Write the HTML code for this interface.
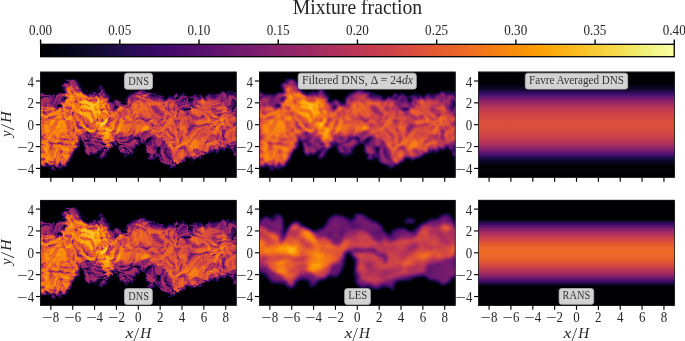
<!DOCTYPE html>
<html><head><meta charset="utf-8"><title>Mixture fraction</title>
<style>html,body{margin:0;padding:0;background:#fff}svg{display:block}</style></head>
<body>
<svg width="685" height="341" viewBox="0 0 685 341" font-family='"Liberation Serif", serif'>
<defs>
<linearGradient id="inf" x1="0" y1="0" x2="1" y2="0">
<stop offset="0.000" stop-color="#000004"/>
<stop offset="0.025" stop-color="#02020e"/>
<stop offset="0.050" stop-color="#07051b"/>
<stop offset="0.075" stop-color="#0e092b"/>
<stop offset="0.100" stop-color="#160b39"/>
<stop offset="0.125" stop-color="#210c4a"/>
<stop offset="0.150" stop-color="#2b0b57"/>
<stop offset="0.175" stop-color="#360961"/>
<stop offset="0.200" stop-color="#420a68"/>
<stop offset="0.225" stop-color="#4c0c6b"/>
<stop offset="0.250" stop-color="#57106e"/>
<stop offset="0.275" stop-color="#61136e"/>
<stop offset="0.300" stop-color="#6a176e"/>
<stop offset="0.325" stop-color="#751b6e"/>
<stop offset="0.350" stop-color="#7f1e6c"/>
<stop offset="0.375" stop-color="#8a226a"/>
<stop offset="0.400" stop-color="#932667"/>
<stop offset="0.425" stop-color="#9d2964"/>
<stop offset="0.450" stop-color="#a82e5f"/>
<stop offset="0.475" stop-color="#b1325a"/>
<stop offset="0.500" stop-color="#bc3754"/>
<stop offset="0.525" stop-color="#c43c4e"/>
<stop offset="0.550" stop-color="#cc4248"/>
<stop offset="0.575" stop-color="#d54a41"/>
<stop offset="0.600" stop-color="#dd513a"/>
<stop offset="0.625" stop-color="#e45a31"/>
<stop offset="0.650" stop-color="#ea632a"/>
<stop offset="0.675" stop-color="#ef6c23"/>
<stop offset="0.700" stop-color="#f37819"/>
<stop offset="0.725" stop-color="#f78212"/>
<stop offset="0.750" stop-color="#f98e09"/>
<stop offset="0.775" stop-color="#fb9906"/>
<stop offset="0.800" stop-color="#fca50a"/>
<stop offset="0.825" stop-color="#fcb216"/>
<stop offset="0.850" stop-color="#fbbe23"/>
<stop offset="0.875" stop-color="#f9cb35"/>
<stop offset="0.900" stop-color="#f6d746"/>
<stop offset="0.925" stop-color="#f3e35a"/>
<stop offset="0.950" stop-color="#f1ef75"/>
<stop offset="0.975" stop-color="#f4f88e"/>
<stop offset="1.000" stop-color="#fcffa4"/>
</linearGradient>
<linearGradient id="favre" gradientUnits="userSpaceOnUse" x1="0" y1="71.7" x2="0" y2="177.7">
<stop offset="0.0000" stop-color="#000004"/>
<stop offset="0.1160" stop-color="#020208"/>
<stop offset="0.1538" stop-color="#0c0826"/>
<stop offset="0.1821" stop-color="#1b0c41"/>
<stop offset="0.2104" stop-color="#3b0f6e"/>
<stop offset="0.2434" stop-color="#6a176e"/>
<stop offset="0.2858" stop-color="#932667"/>
<stop offset="0.3330" stop-color="#b5335a"/>
<stop offset="0.3896" stop-color="#cc4248"/>
<stop offset="0.4557" stop-color="#d84c3e"/>
<stop offset="0.5000" stop-color="#da4e3c"/>
<stop offset="0.5443" stop-color="#d84c3e"/>
<stop offset="0.6104" stop-color="#cc4248"/>
<stop offset="0.6670" stop-color="#b5335a"/>
<stop offset="0.7142" stop-color="#932667"/>
<stop offset="0.7566" stop-color="#6a176e"/>
<stop offset="0.7896" stop-color="#3b0f6e"/>
<stop offset="0.8179" stop-color="#1b0c41"/>
<stop offset="0.8462" stop-color="#0c0826"/>
<stop offset="0.8840" stop-color="#020208"/>
<stop offset="1.0000" stop-color="#000004"/>
</linearGradient>
<linearGradient id="rans" gradientUnits="userSpaceOnUse" x1="0" y1="199.9" x2="0" y2="305.7">
<stop offset="0.0000" stop-color="#000004"/>
<stop offset="0.1853" stop-color="#000004"/>
<stop offset="0.2042" stop-color="#160b39"/>
<stop offset="0.2325" stop-color="#420a68"/>
<stop offset="0.2703" stop-color="#7a1d6d"/>
<stop offset="0.3100" stop-color="#a52c60"/>
<stop offset="0.3554" stop-color="#c73e4c"/>
<stop offset="0.4017" stop-color="#de5238"/>
<stop offset="0.4395" stop-color="#e8632c"/>
<stop offset="0.5000" stop-color="#ee6d25"/>
<stop offset="0.5605" stop-color="#e8632c"/>
<stop offset="0.5983" stop-color="#de5238"/>
<stop offset="0.6446" stop-color="#c73e4c"/>
<stop offset="0.6900" stop-color="#a52c60"/>
<stop offset="0.7297" stop-color="#7a1d6d"/>
<stop offset="0.7675" stop-color="#420a68"/>
<stop offset="0.7958" stop-color="#160b39"/>
<stop offset="0.8147" stop-color="#000004"/>
<stop offset="1.0000" stop-color="#000004"/>
</linearGradient>
<filter id="fdns" filterUnits="userSpaceOnUse" x="26.0" y="57.7" width="224.6" height="134.0" color-interpolation-filters="sRGB">
<feTurbulence type="fractalNoise" baseFrequency="0.035" numOctaves="3" seed="3" result="n1"/>
<feTurbulence type="fractalNoise" baseFrequency="0.15 0.19" numOctaves="4" seed="11" result="n2"/>
<feDisplacementMap in="n2" in2="n1" scale="30" xChannelSelector="R" yChannelSelector="G" result="n2w"/>
<feGaussianBlur in="SourceGraphic" stdDeviation="0.9" result="b"/>
<feDisplacementMap in="b" in2="n2w" scale="9" xChannelSelector="R" yChannelSelector="G" result="d"/>
<feColorMatrix in="n2w" type="matrix" values="0 0 1 0 0  0 0 1 0 0  0 0 1 0 0  0 0 0 0 1" result="ng0"/>
<feComponentTransfer in="ng0" result="ng"><feFuncR type="table" tableValues="0.46 0.46 0.48 0.6 0.78 0.88 0.95 1 1 1 1"/><feFuncG type="table" tableValues="0.46 0.46 0.48 0.6 0.78 0.88 0.95 1 1 1 1"/><feFuncB type="table" tableValues="0.46 0.46 0.48 0.6 0.78 0.88 0.95 1 1 1 1"/></feComponentTransfer>
<feColorMatrix in="d" type="matrix" values="1 0 0 0 0  1 0 0 0 0  1 0 0 0 0  0 0 0 0 1" result="dc"/>
<feComposite in="dc" in2="ng" operator="arithmetic" k1="1.3" k2="0" k3="0" k4="-0.09" result="mc"/>
<feColorMatrix in="n2w" type="matrix" values="1 0 0 0 0  1 0 0 0 0  1 0 0 0 0  0 0 0 0 1" result="nh0"/>
<feComponentTransfer in="nh0" result="nh"><feFuncR type="table" tableValues="0 0 0 0.12 0.45 0.78 0.95 1 1 1 1"/><feFuncG type="table" tableValues="0 0 0 0.12 0.45 0.78 0.95 1 1 1 1"/><feFuncB type="table" tableValues="0 0 0 0.12 0.45 0.78 0.95 1 1 1 1"/></feComponentTransfer>
<feColorMatrix in="d" type="matrix" values="0 1 0 0 0  0 1 0 0 0  0 1 0 0 0  0 0 0 0 1" result="df"/>
<feComposite in="df" in2="nh" operator="arithmetic" k1="0.46" k2="0" k3="0" k4="0" result="mf"/>
<feComposite in="mc" in2="mf" operator="arithmetic" k1="0" k2="1" k3="1" k4="0" result="m"/>
<feColorMatrix in="m" type="matrix" values="1 0 0 0 0  0 1 0 0 0  0 0 1 0 0  0 0 0 0 1" result="mo"/>

<feComponentTransfer><feFuncR type="table" tableValues="0.001 0.014 0.042 0.082 0.129 0.183 0.238 0.291 0.342 0.391 0.441 0.491 0.541 0.591 0.640 0.689 0.736 0.781 0.822 0.861 0.894 0.923 0.947 0.965 0.978 0.986 0.988 0.984 0.975 0.961 0.948 0.955 0.988"/><feFuncG type="table" tableValues="0.000 0.011 0.028 0.043 0.047 0.040 0.037 0.046 0.062 0.081 0.099 0.117 0.135 0.153 0.171 0.192 0.216 0.243 0.275 0.312 0.353 0.399 0.449 0.502 0.558 0.616 0.675 0.736 0.798 0.859 0.917 0.966 0.998"/><feFuncB type="table" tableValues="0.014 0.072 0.141 0.215 0.291 0.355 0.396 0.419 0.429 0.433 0.432 0.426 0.415 0.400 0.381 0.358 0.330 0.300 0.266 0.231 0.194 0.155 0.115 0.074 0.035 0.026 0.065 0.130 0.206 0.298 0.411 0.540 0.645"/></feComponentTransfer>
</filter>
<filter id="ffilt" filterUnits="userSpaceOnUse" x="26.0" y="57.7" width="224.6" height="134.0" color-interpolation-filters="sRGB">
<feTurbulence type="fractalNoise" baseFrequency="0.035" numOctaves="3" seed="3" result="n1"/>
<feTurbulence type="fractalNoise" baseFrequency="0.15 0.19" numOctaves="4" seed="11" result="n2"/>
<feDisplacementMap in="n2" in2="n1" scale="30" xChannelSelector="R" yChannelSelector="G" result="n2w"/>
<feGaussianBlur in="SourceGraphic" stdDeviation="0.9" result="b"/>
<feDisplacementMap in="b" in2="n2w" scale="9" xChannelSelector="R" yChannelSelector="G" result="d"/>
<feColorMatrix in="n2w" type="matrix" values="0 0 1 0 0  0 0 1 0 0  0 0 1 0 0  0 0 0 0 1" result="ng0"/>
<feComponentTransfer in="ng0" result="ng"><feFuncR type="table" tableValues="0.46 0.46 0.48 0.6 0.78 0.88 0.95 1 1 1 1"/><feFuncG type="table" tableValues="0.46 0.46 0.48 0.6 0.78 0.88 0.95 1 1 1 1"/><feFuncB type="table" tableValues="0.46 0.46 0.48 0.6 0.78 0.88 0.95 1 1 1 1"/></feComponentTransfer>
<feColorMatrix in="d" type="matrix" values="1 0 0 0 0  1 0 0 0 0  1 0 0 0 0  0 0 0 0 1" result="dc"/>
<feComposite in="dc" in2="ng" operator="arithmetic" k1="1.3" k2="0" k3="0" k4="-0.09" result="mc"/>
<feColorMatrix in="n2w" type="matrix" values="1 0 0 0 0  1 0 0 0 0  1 0 0 0 0  0 0 0 0 1" result="nh0"/>
<feComponentTransfer in="nh0" result="nh"><feFuncR type="table" tableValues="0 0 0 0.12 0.45 0.78 0.95 1 1 1 1"/><feFuncG type="table" tableValues="0 0 0 0.12 0.45 0.78 0.95 1 1 1 1"/><feFuncB type="table" tableValues="0 0 0 0.12 0.45 0.78 0.95 1 1 1 1"/></feComponentTransfer>
<feColorMatrix in="d" type="matrix" values="0 1 0 0 0  0 1 0 0 0  0 1 0 0 0  0 0 0 0 1" result="df"/>
<feComposite in="df" in2="nh" operator="arithmetic" k1="0.46" k2="0" k3="0" k4="0" result="mf"/>
<feComposite in="mc" in2="mf" operator="arithmetic" k1="0" k2="1" k3="1" k4="0" result="m"/>
<feColorMatrix in="m" type="matrix" values="1 0 0 0 0  0 1 0 0 0  0 0 1 0 0  0 0 0 0 1" result="mo"/>
<feGaussianBlur in="mo" stdDeviation="0.85"/>
<feComponentTransfer><feFuncR type="table" tableValues="0.001 0.014 0.042 0.082 0.129 0.183 0.238 0.291 0.342 0.391 0.441 0.491 0.541 0.591 0.640 0.689 0.736 0.781 0.822 0.861 0.894 0.923 0.947 0.965 0.978 0.986 0.988 0.984 0.975 0.961 0.948 0.955 0.988"/><feFuncG type="table" tableValues="0.000 0.011 0.028 0.043 0.047 0.040 0.037 0.046 0.062 0.081 0.099 0.117 0.135 0.153 0.171 0.192 0.216 0.243 0.275 0.312 0.353 0.399 0.449 0.502 0.558 0.616 0.675 0.736 0.798 0.859 0.917 0.966 0.998"/><feFuncB type="table" tableValues="0.014 0.072 0.141 0.215 0.291 0.355 0.396 0.419 0.429 0.433 0.432 0.426 0.415 0.400 0.381 0.358 0.330 0.300 0.266 0.231 0.194 0.155 0.115 0.074 0.035 0.026 0.065 0.130 0.206 0.298 0.411 0.540 0.645"/></feComponentTransfer>
</filter>
<filter id="fles" filterUnits="userSpaceOnUse" x="245.0" y="185.9" width="224.6" height="134.0" color-interpolation-filters="sRGB">
<feTurbulence type="fractalNoise" baseFrequency="0.03" numOctaves="2" seed="5" result="n1"/>
<feTurbulence type="fractalNoise" baseFrequency="0.055 0.075" numOctaves="3" seed="8" result="n2"/>
<feDisplacementMap in="n2" in2="n1" scale="18" xChannelSelector="R" yChannelSelector="G" result="n2w0"/>
<feGaussianBlur in="n2w0" stdDeviation="1.0" result="n2w"/>
<feGaussianBlur in="SourceGraphic" stdDeviation="1.4" result="b"/>
<feDisplacementMap in="b" in2="n2w" scale="6" xChannelSelector="R" yChannelSelector="G" result="d"/>
<feColorMatrix in="n2w" type="matrix" values="0 0 1.8 0 -0.4  0 0 1.8 0 -0.4  0 0 1.8 0 -0.4  0 0 0 0 1" result="ng"/>
<feComposite in="d" in2="ng" operator="arithmetic" k1="0.5" k2="0.7" k3="0" k4="0" result="m"/>
<feGaussianBlur in="m" stdDeviation="0.9" result="m2"/>
<feColorMatrix in="m2" type="matrix" values="1 0 0 0 0  0 1 0 0 0  0 0 1 0 0  0 0 0 0 1"/>
<feComponentTransfer><feFuncR type="table" tableValues="0.001 0.014 0.042 0.082 0.129 0.183 0.238 0.291 0.342 0.391 0.441 0.491 0.541 0.591 0.640 0.689 0.736 0.781 0.822 0.861 0.894 0.923 0.947 0.965 0.978 0.986 0.988 0.984 0.975 0.961 0.948 0.955 0.988"/><feFuncG type="table" tableValues="0.000 0.011 0.028 0.043 0.047 0.040 0.037 0.046 0.062 0.081 0.099 0.117 0.135 0.153 0.171 0.192 0.216 0.243 0.275 0.312 0.353 0.399 0.449 0.502 0.558 0.616 0.675 0.736 0.798 0.859 0.917 0.966 0.998"/><feFuncB type="table" tableValues="0.014 0.072 0.141 0.215 0.291 0.355 0.396 0.419 0.429 0.433 0.432 0.426 0.415 0.400 0.381 0.358 0.330 0.300 0.266 0.231 0.194 0.155 0.115 0.074 0.035 0.026 0.065 0.130 0.206 0.298 0.411 0.540 0.645"/></feComponentTransfer>
</filter>
<clipPath id="cp00"><rect x="40.0" y="71.7" width="196.6" height="106.0"/></clipPath>
<clipPath id="cp01"><rect x="40.0" y="199.9" width="196.6" height="105.8"/></clipPath>
<clipPath id="cp10"><rect x="259.0" y="71.7" width="196.6" height="106.0"/></clipPath>
<clipPath id="cp11"><rect x="259.0" y="199.9" width="196.6" height="105.8"/></clipPath>
<clipPath id="cp20"><rect x="478.2" y="71.7" width="196.6" height="106.0"/></clipPath>
<clipPath id="cp21"><rect x="478.2" y="199.9" width="196.6" height="105.8"/></clipPath>
</defs>
<text x="357.5" y="13.7" font-size="20.2" text-anchor="middle" textLength="129.4" lengthAdjust="spacingAndGlyphs" fill="#262626">Mixture fraction</text>
<rect x="40.65" y="44.30" width="633.60" height="12.40" fill="url(#inf)" stroke="#000" stroke-width="1.3"/>
<line x1="40.60" y1="39.5" x2="40.60" y2="44" stroke="#000" stroke-width="1.4"/>
<text x="29.1" y="35.0" font-size="14.3" text-anchor="start" textLength="22.9" lengthAdjust="spacingAndGlyphs" fill="#262626">0.00</text>
<line x1="119.81" y1="39.5" x2="119.81" y2="44" stroke="#000" stroke-width="1.4"/>
<text x="108.3" y="35.0" font-size="14.3" text-anchor="start" textLength="22.9" lengthAdjust="spacingAndGlyphs" fill="#262626">0.05</text>
<line x1="199.02" y1="39.5" x2="199.02" y2="44" stroke="#000" stroke-width="1.4"/>
<text x="187.5" y="35.0" font-size="14.3" text-anchor="start" textLength="22.9" lengthAdjust="spacingAndGlyphs" fill="#262626">0.10</text>
<line x1="278.24" y1="39.5" x2="278.24" y2="44" stroke="#000" stroke-width="1.4"/>
<text x="266.7" y="35.0" font-size="14.3" text-anchor="start" textLength="22.9" lengthAdjust="spacingAndGlyphs" fill="#262626">0.15</text>
<line x1="357.45" y1="39.5" x2="357.45" y2="44" stroke="#000" stroke-width="1.4"/>
<text x="345.9" y="35.0" font-size="14.3" text-anchor="start" textLength="22.9" lengthAdjust="spacingAndGlyphs" fill="#262626">0.20</text>
<line x1="436.66" y1="39.5" x2="436.66" y2="44" stroke="#000" stroke-width="1.4"/>
<text x="425.1" y="35.0" font-size="14.3" text-anchor="start" textLength="22.9" lengthAdjust="spacingAndGlyphs" fill="#262626">0.25</text>
<line x1="515.88" y1="39.5" x2="515.88" y2="44" stroke="#000" stroke-width="1.4"/>
<text x="504.3" y="35.0" font-size="14.3" text-anchor="start" textLength="22.9" lengthAdjust="spacingAndGlyphs" fill="#262626">0.30</text>
<line x1="595.09" y1="39.5" x2="595.09" y2="44" stroke="#000" stroke-width="1.4"/>
<text x="583.5" y="35.0" font-size="14.3" text-anchor="start" textLength="22.9" lengthAdjust="spacingAndGlyphs" fill="#262626">0.35</text>
<line x1="674.30" y1="39.5" x2="674.30" y2="44" stroke="#000" stroke-width="1.4"/>
<text x="662.8" y="35.0" font-size="14.3" text-anchor="start" textLength="22.9" lengthAdjust="spacingAndGlyphs" fill="#262626">0.40</text>
<defs><g id="dns">
<rect x="20.0" y="51.7" width="236.6" height="146.0" fill="#000"/>
<polygon points="38.0,92.0 41.2,91.8 47.7,94.2 54.1,96.6 59.0,94.2 62.2,91.0 65.4,82.9 70.3,80.5 75.9,80.0 79.9,86.1 84.8,90.2 89.6,94.2 94.5,92.6 101.7,87.7 105.7,91.8 110.6,100.6 113.8,102.3 118.6,100.6 125.1,101.5 128.0,97.4 132.8,94.2 137.7,91.8 142.5,90.2 147.4,92.6 152.2,94.2 157.0,95.8 161.9,96.6 165.9,99.8 169.9,97.4 174.0,96.6 178.0,94.2 182.8,95.0 187.7,96.6 192.5,95.0 197.4,95.8 202.2,96.6 207.0,95.0 211.9,93.4 218.3,94.2 224.8,93.4 231.2,92.6 239.0,94.2 239.0,157.3 234.5,158.9 232.8,149.2 229.6,147.6 224.8,149.2 219.9,150.8 215.1,154.8 210.3,151.6 205.4,152.4 200.6,156.5 195.7,155.6 190.9,159.7 186.1,157.3 182.8,161.3 178.0,163.7 174.0,166.9 169.9,165.3 165.1,164.5 161.9,159.7 157.0,155.6 152.2,159.7 149.0,157.3 145.7,142.7 140.9,141.1 136.1,146.0 131.2,154.0 128.0,156.5 125.1,155.6 118.6,147.6 115.4,141.1 112.2,146.0 107.4,152.4 102.5,159.7 97.7,158.1 92.8,150.8 89.6,156.5 86.4,149.2 83.2,141.1 80.5,135.5 79.0,140.0 78.5,148.0 74.0,153.5 69.5,158.5 67.0,164.5 61.0,167.5 54.1,169.4 47.7,165.3 41.2,166.1 38.0,166.0" fill="#00ff00"/>
<linearGradient id="cg" gradientUnits="userSpaceOnUse" x1="40" y1="0" x2="236" y2="0"><stop offset="0" stop-color="#a80000"/><stop offset="0.36" stop-color="#ad0000"/><stop offset="0.47" stop-color="#980000"/><stop offset="1" stop-color="#920000"/></linearGradient>
<polygon points="38.0,106.0 41.2,106.3 47.7,104.7 54.1,107.1 60.6,108.7 63.8,97.4 67.0,89.4 71.9,86.1 76.7,86.1 79.9,91.0 84.8,94.2 89.6,98.2 94.5,96.6 100.9,94.2 105.7,97.4 110.6,104.7 113.8,111.9 118.6,108.7 125.1,105.5 128.0,100.6 134.5,96.6 142.5,93.4 149.0,95.8 155.4,98.2 161.9,99.8 166.7,102.3 171.5,99.0 174.8,102.3 178.0,108.7 184.5,112.7 190.9,110.3 194.1,100.6 200.6,99.0 207.0,98.2 213.5,97.4 219.9,98.2 224.8,102.3 229.6,110.3 234.5,115.2 239.0,116.0 239.0,144.4 229.6,142.7 224.8,145.2 219.9,147.6 215.1,150.8 210.3,149.2 205.4,150.8 200.6,154.8 195.7,154.8 190.9,158.1 186.1,156.5 182.8,160.5 178.0,162.9 174.0,165.3 171.5,157.3 169.9,149.2 166.7,142.7 160.3,137.9 153.8,134.7 147.4,132.3 140.9,133.9 134.5,136.3 128.0,137.9 121.9,133.9 115.4,136.3 112.2,142.7 109.8,149.2 105.7,146.0 102.5,139.5 97.7,136.3 91.2,133.9 84.8,132.3 79.5,134.0 78.0,139.5 77.0,147.0 72.5,152.0 68.0,157.5 65.5,163.0 59.0,164.5 54.1,167.3 47.7,163.7 41.2,164.5 38.0,164.5" fill="url(#cg)"/>
<g fill="#ff0000" fill-opacity="0.2">
<ellipse cx="93" cy="112" rx="16" ry="12" transform="rotate(35 93 112)"/>
<ellipse cx="108" cy="126" rx="12" ry="8" transform="rotate(30 108 126)"/>
<ellipse cx="144" cy="128" rx="6" ry="4"/>
<ellipse cx="190" cy="144" rx="28" ry="4" transform="rotate(-6 190 144)" fill-opacity="0.15"/>
<ellipse cx="219" cy="122" rx="9" ry="12" fill-opacity="0.12"/>
</g>
</g></defs>
<g clip-path="url(#cp00)"><use href="#dns" filter="url(#fdns)"/></g>
<g clip-path="url(#cp01)"><use href="#dns" filter="url(#fdns)" transform="translate(0,128.2)"/></g>
<g clip-path="url(#cp10)"><use href="#dns" filter="url(#ffilt)" transform="translate(219.0,0)"/></g>
<g clip-path="url(#cp11)"><g filter="url(#fles)">
<rect x="239.0" y="179.9" width="236.6" height="146.0" fill="#000"/>
<polygon points="255.0,225.0 259.4,224.6 263.5,219.0 268.3,218.2 272.3,222.2 273.9,215.7 278.0,212.5 281.2,215.7 282.0,227.0 283.6,238.3 286.8,230.3 290.9,223.8 297.3,221.9 303.8,226.2 308.6,230.3 313.5,232.7 316.7,230.3 321.5,228.6 326.4,225.4 331.2,217.4 336.0,214.1 340.9,215.7 345.7,219.0 349.7,222.2 353.8,217.4 356.7,214.1 361.5,213.3 366.4,217.4 371.2,222.2 376.0,223.8 380.9,227.0 385.7,232.7 390.5,236.7 393.8,230.3 398.6,228.6 403.5,229.5 408.3,231.9 413.1,233.5 416.4,227.8 421.2,224.6 426.0,222.2 430.9,220.6 437.3,217.4 442.2,214.1 447.0,213.3 451.8,217.4 455.6,225.4 459.0,226.0 459.0,273.0 455.6,273.7 451.8,276.9 448.6,281.8 443.8,284.2 438.9,281.8 434.1,279.4 429.3,281.0 424.4,276.9 418.0,276.1 411.5,277.7 406.7,280.2 401.8,279.4 397.0,281.0 392.2,288.2 387.3,286.6 382.5,285.0 377.6,288.2 372.8,286.6 368.0,285.0 363.1,287.4 358.3,286.6 355.9,281.8 356.7,272.1 355.9,262.4 351.8,254.4 347.0,251.9 345.7,256.0 342.5,267.5 339.3,274.0 336.0,278.0 332.8,276.4 329.6,275.6 324.7,278.8 319.9,279.6 315.1,282.8 312.6,287.7 310.2,285.3 307.0,280.4 302.2,278.8 297.3,279.6 294.1,282.8 291.7,288.5 287.6,286.9 282.8,283.6 278.0,282.0 273.1,282.8 268.3,279.6 263.5,274.0 259.4,271.5 255.0,271.0" fill="#505050"/>
<ellipse cx="408.3" cy="220.3" rx="5.6" ry="2.6" fill="#444"/>
<linearGradient id="lg" gradientUnits="userSpaceOnUse" x1="259" y1="0" x2="455" y2="0"><stop offset="0" stop-color="#a5a5a5"/><stop offset="0.36" stop-color="#a9a9a9"/><stop offset="0.5" stop-color="#8e8e8e"/><stop offset="1" stop-color="#919191"/></linearGradient>
<polygon points="255.0,226.5 259.4,226.2 265.0,228.6 273.1,232.7 279.6,238.3 283.6,242.4 286.8,234.3 290.9,226.2 297.3,223.8 303.8,227.8 310.2,232.7 315.1,238.3 318.3,241.5 321.5,236.7 328.0,238.3 332.8,244.8 338.0,246.0 343.0,240.0 347.0,230.3 353.5,228.6 361.5,227.8 368.0,231.9 372.8,238.3 379.3,241.5 385.7,240.7 392.2,241.5 400.2,238.3 408.3,239.9 414.7,238.3 419.6,230.3 424.4,225.4 429.3,224.6 434.1,227.8 438.9,225.4 443.8,222.2 448.6,223.8 455.6,227.0 459.0,227.0 459.0,256.0 455.6,256.0 447.0,259.2 438.9,261.6 432.5,264.0 426.0,265.6 422.8,271.3 414.7,273.7 405.1,276.1 397.0,276.9 392.2,280.2 385.7,281.8 376.0,283.4 366.4,281.8 359.9,278.5 358.5,268.0 357.0,258.0 352.0,252.0 346.0,252.0 342.5,256.2 339.3,261.1 336.0,264.3 331.2,265.9 328.8,272.4 324.7,277.2 318.3,277.2 311.8,274.0 305.4,272.4 298.9,274.0 293.3,280.4 291.7,286.9 287.6,283.6 281.2,274.0 273.1,270.7 266.7,265.1 259.4,265.9 255.0,266.0" fill="url(#lg)"/>
<g fill="#fff" fill-opacity="0.12">
<ellipse cx="322" cy="250" rx="14" ry="8"/>
<ellipse cx="285" cy="252" rx="22" ry="9"/>
<ellipse cx="432" cy="256" rx="14" ry="5" transform="rotate(-20 432 256)" fill-opacity="0.14"/>
<ellipse cx="377" cy="274" rx="9" ry="5"/>
</g>
<path d="M345,254 Q360,245 374,251 T385,262" fill="none" stroke="#000" stroke-opacity="0.55" stroke-width="4" stroke-linecap="round"/>
</g></g>
<rect x="478.2" y="71.7" width="196.6" height="106.0" fill="url(#favre)"/>
<rect x="478.2" y="199.9" width="196.6" height="106.0" fill="url(#rans)"/>
<rect x="40.4" y="72.1" width="195.8" height="105.2" fill="none" stroke="#1a1a1a" stroke-width="0.8"/>
<line x1="50.86" y1="177.7" x2="50.86" y2="181.8" stroke="#000" stroke-width="1.15"/>
<line x1="72.72" y1="177.7" x2="72.72" y2="181.8" stroke="#000" stroke-width="1.15"/>
<line x1="94.58" y1="177.7" x2="94.58" y2="181.8" stroke="#000" stroke-width="1.15"/>
<line x1="116.44" y1="177.7" x2="116.44" y2="181.8" stroke="#000" stroke-width="1.15"/>
<line x1="138.30" y1="177.7" x2="138.30" y2="181.8" stroke="#000" stroke-width="1.15"/>
<line x1="160.16" y1="177.7" x2="160.16" y2="181.8" stroke="#000" stroke-width="1.15"/>
<line x1="182.02" y1="177.7" x2="182.02" y2="181.8" stroke="#000" stroke-width="1.15"/>
<line x1="203.88" y1="177.7" x2="203.88" y2="181.8" stroke="#000" stroke-width="1.15"/>
<line x1="225.74" y1="177.7" x2="225.74" y2="181.8" stroke="#000" stroke-width="1.15"/>
<line x1="35.9" y1="168.42" x2="40.0" y2="168.42" stroke="#000" stroke-width="1.15"/>
<text y="173.9" font-size="14.3" fill="#262626"><tspan x="17.1" textLength="10.4" lengthAdjust="spacingAndGlyphs">−</tspan><tspan x="27.7" textLength="6.45" lengthAdjust="spacingAndGlyphs">4</tspan></text>
<line x1="35.9" y1="146.56" x2="40.0" y2="146.56" stroke="#000" stroke-width="1.15"/>
<text y="152.1" font-size="14.3" fill="#262626"><tspan x="17.1" textLength="10.4" lengthAdjust="spacingAndGlyphs">−</tspan><tspan x="27.7" textLength="6.45" lengthAdjust="spacingAndGlyphs">2</tspan></text>
<line x1="35.9" y1="124.70" x2="40.0" y2="124.70" stroke="#000" stroke-width="1.15"/>
<text x="27.6" y="130.2" font-size="14.3" text-anchor="start" textLength="6.5" lengthAdjust="spacingAndGlyphs" fill="#262626">0</text>
<line x1="35.9" y1="102.84" x2="40.0" y2="102.84" stroke="#000" stroke-width="1.15"/>
<text x="27.6" y="108.3" font-size="14.3" text-anchor="start" textLength="6.5" lengthAdjust="spacingAndGlyphs" fill="#262626">2</text>
<line x1="35.9" y1="80.98" x2="40.0" y2="80.98" stroke="#000" stroke-width="1.15"/>
<text x="27.6" y="86.5" font-size="14.3" text-anchor="start" textLength="6.5" lengthAdjust="spacingAndGlyphs" fill="#262626">4</text>
<rect x="40.4" y="200.3" width="195.8" height="105.0" fill="none" stroke="#1a1a1a" stroke-width="0.8"/>
<line x1="50.86" y1="305.7" x2="50.86" y2="309.8" stroke="#000" stroke-width="1.15"/>
<text y="322.1" font-size="14.3" fill="#262626"><tspan x="42.1" textLength="10.4" lengthAdjust="spacingAndGlyphs">−</tspan><tspan x="52.8" textLength="6.45" lengthAdjust="spacingAndGlyphs">8</tspan></text>
<line x1="72.72" y1="305.7" x2="72.72" y2="309.8" stroke="#000" stroke-width="1.15"/>
<text y="322.1" font-size="14.3" fill="#262626"><tspan x="64.0" textLength="10.4" lengthAdjust="spacingAndGlyphs">−</tspan><tspan x="74.7" textLength="6.45" lengthAdjust="spacingAndGlyphs">6</tspan></text>
<line x1="94.58" y1="305.7" x2="94.58" y2="309.8" stroke="#000" stroke-width="1.15"/>
<text y="322.1" font-size="14.3" fill="#262626"><tspan x="85.9" textLength="10.4" lengthAdjust="spacingAndGlyphs">−</tspan><tspan x="96.6" textLength="6.45" lengthAdjust="spacingAndGlyphs">4</tspan></text>
<line x1="116.44" y1="305.7" x2="116.44" y2="309.8" stroke="#000" stroke-width="1.15"/>
<text y="322.1" font-size="14.3" fill="#262626"><tspan x="107.7" textLength="10.4" lengthAdjust="spacingAndGlyphs">−</tspan><tspan x="118.4" textLength="6.45" lengthAdjust="spacingAndGlyphs">2</tspan></text>
<line x1="138.30" y1="305.7" x2="138.30" y2="309.8" stroke="#000" stroke-width="1.15"/>
<text x="135.1" y="322.1" font-size="14.3" text-anchor="start" textLength="6.5" lengthAdjust="spacingAndGlyphs" fill="#262626">0</text>
<line x1="160.16" y1="305.7" x2="160.16" y2="309.8" stroke="#000" stroke-width="1.15"/>
<text x="156.9" y="322.1" font-size="14.3" text-anchor="start" textLength="6.5" lengthAdjust="spacingAndGlyphs" fill="#262626">2</text>
<line x1="182.02" y1="305.7" x2="182.02" y2="309.8" stroke="#000" stroke-width="1.15"/>
<text x="178.8" y="322.1" font-size="14.3" text-anchor="start" textLength="6.5" lengthAdjust="spacingAndGlyphs" fill="#262626">4</text>
<line x1="203.88" y1="305.7" x2="203.88" y2="309.8" stroke="#000" stroke-width="1.15"/>
<text x="200.7" y="322.1" font-size="14.3" text-anchor="start" textLength="6.5" lengthAdjust="spacingAndGlyphs" fill="#262626">6</text>
<line x1="225.74" y1="305.7" x2="225.74" y2="309.8" stroke="#000" stroke-width="1.15"/>
<text x="222.5" y="322.1" font-size="14.3" text-anchor="start" textLength="6.5" lengthAdjust="spacingAndGlyphs" fill="#262626">8</text>
<line x1="35.9" y1="296.52" x2="40.0" y2="296.52" stroke="#000" stroke-width="1.15"/>
<text y="302.0" font-size="14.3" fill="#262626"><tspan x="17.1" textLength="10.4" lengthAdjust="spacingAndGlyphs">−</tspan><tspan x="27.7" textLength="6.45" lengthAdjust="spacingAndGlyphs">4</tspan></text>
<line x1="35.9" y1="274.66" x2="40.0" y2="274.66" stroke="#000" stroke-width="1.15"/>
<text y="280.2" font-size="14.3" fill="#262626"><tspan x="17.1" textLength="10.4" lengthAdjust="spacingAndGlyphs">−</tspan><tspan x="27.7" textLength="6.45" lengthAdjust="spacingAndGlyphs">2</tspan></text>
<line x1="35.9" y1="252.80" x2="40.0" y2="252.80" stroke="#000" stroke-width="1.15"/>
<text x="27.6" y="258.3" font-size="14.3" text-anchor="start" textLength="6.5" lengthAdjust="spacingAndGlyphs" fill="#262626">0</text>
<line x1="35.9" y1="230.94" x2="40.0" y2="230.94" stroke="#000" stroke-width="1.15"/>
<text x="27.6" y="236.4" font-size="14.3" text-anchor="start" textLength="6.5" lengthAdjust="spacingAndGlyphs" fill="#262626">2</text>
<line x1="35.9" y1="209.08" x2="40.0" y2="209.08" stroke="#000" stroke-width="1.15"/>
<text x="27.6" y="214.6" font-size="14.3" text-anchor="start" textLength="6.5" lengthAdjust="spacingAndGlyphs" fill="#262626">4</text>
<text transform="translate(125.5,337.5)" font-style="italic" fill="#262626"><tspan x="0" y="0" font-size="14.6" textLength="7.9" lengthAdjust="spacingAndGlyphs">x</tspan><tspan x="8.7" y="3.4" font-size="19.5" textLength="3.8" lengthAdjust="spacingAndGlyphs">/</tspan><tspan x="14.7" y="0" font-size="14.2" textLength="10.9" lengthAdjust="spacingAndGlyphs">H</tspan></text>
<rect x="259.4" y="72.1" width="195.8" height="105.2" fill="none" stroke="#1a1a1a" stroke-width="0.8"/>
<line x1="269.86" y1="177.7" x2="269.86" y2="181.8" stroke="#000" stroke-width="1.15"/>
<line x1="291.72" y1="177.7" x2="291.72" y2="181.8" stroke="#000" stroke-width="1.15"/>
<line x1="313.58" y1="177.7" x2="313.58" y2="181.8" stroke="#000" stroke-width="1.15"/>
<line x1="335.44" y1="177.7" x2="335.44" y2="181.8" stroke="#000" stroke-width="1.15"/>
<line x1="357.30" y1="177.7" x2="357.30" y2="181.8" stroke="#000" stroke-width="1.15"/>
<line x1="379.16" y1="177.7" x2="379.16" y2="181.8" stroke="#000" stroke-width="1.15"/>
<line x1="401.02" y1="177.7" x2="401.02" y2="181.8" stroke="#000" stroke-width="1.15"/>
<line x1="422.88" y1="177.7" x2="422.88" y2="181.8" stroke="#000" stroke-width="1.15"/>
<line x1="444.74" y1="177.7" x2="444.74" y2="181.8" stroke="#000" stroke-width="1.15"/>
<line x1="254.9" y1="168.42" x2="259.0" y2="168.42" stroke="#000" stroke-width="1.15"/>
<text y="173.9" font-size="14.3" fill="#262626"><tspan x="236.1" textLength="10.4" lengthAdjust="spacingAndGlyphs">−</tspan><tspan x="246.7" textLength="6.45" lengthAdjust="spacingAndGlyphs">4</tspan></text>
<line x1="254.9" y1="146.56" x2="259.0" y2="146.56" stroke="#000" stroke-width="1.15"/>
<text y="152.1" font-size="14.3" fill="#262626"><tspan x="236.1" textLength="10.4" lengthAdjust="spacingAndGlyphs">−</tspan><tspan x="246.7" textLength="6.45" lengthAdjust="spacingAndGlyphs">2</tspan></text>
<line x1="254.9" y1="124.70" x2="259.0" y2="124.70" stroke="#000" stroke-width="1.15"/>
<text x="246.6" y="130.2" font-size="14.3" text-anchor="start" textLength="6.5" lengthAdjust="spacingAndGlyphs" fill="#262626">0</text>
<line x1="254.9" y1="102.84" x2="259.0" y2="102.84" stroke="#000" stroke-width="1.15"/>
<text x="246.6" y="108.3" font-size="14.3" text-anchor="start" textLength="6.5" lengthAdjust="spacingAndGlyphs" fill="#262626">2</text>
<line x1="254.9" y1="80.98" x2="259.0" y2="80.98" stroke="#000" stroke-width="1.15"/>
<text x="246.6" y="86.5" font-size="14.3" text-anchor="start" textLength="6.5" lengthAdjust="spacingAndGlyphs" fill="#262626">4</text>
<rect x="259.4" y="200.3" width="195.8" height="105.0" fill="none" stroke="#1a1a1a" stroke-width="0.8"/>
<line x1="269.86" y1="305.7" x2="269.86" y2="309.8" stroke="#000" stroke-width="1.15"/>
<text y="322.1" font-size="14.3" fill="#262626"><tspan x="261.1" textLength="10.4" lengthAdjust="spacingAndGlyphs">−</tspan><tspan x="271.8" textLength="6.45" lengthAdjust="spacingAndGlyphs">8</tspan></text>
<line x1="291.72" y1="305.7" x2="291.72" y2="309.8" stroke="#000" stroke-width="1.15"/>
<text y="322.1" font-size="14.3" fill="#262626"><tspan x="283.0" textLength="10.4" lengthAdjust="spacingAndGlyphs">−</tspan><tspan x="293.7" textLength="6.45" lengthAdjust="spacingAndGlyphs">6</tspan></text>
<line x1="313.58" y1="305.7" x2="313.58" y2="309.8" stroke="#000" stroke-width="1.15"/>
<text y="322.1" font-size="14.3" fill="#262626"><tspan x="304.9" textLength="10.4" lengthAdjust="spacingAndGlyphs">−</tspan><tspan x="315.6" textLength="6.45" lengthAdjust="spacingAndGlyphs">4</tspan></text>
<line x1="335.44" y1="305.7" x2="335.44" y2="309.8" stroke="#000" stroke-width="1.15"/>
<text y="322.1" font-size="14.3" fill="#262626"><tspan x="326.7" textLength="10.4" lengthAdjust="spacingAndGlyphs">−</tspan><tspan x="337.4" textLength="6.45" lengthAdjust="spacingAndGlyphs">2</tspan></text>
<line x1="357.30" y1="305.7" x2="357.30" y2="309.8" stroke="#000" stroke-width="1.15"/>
<text x="354.1" y="322.1" font-size="14.3" text-anchor="start" textLength="6.5" lengthAdjust="spacingAndGlyphs" fill="#262626">0</text>
<line x1="379.16" y1="305.7" x2="379.16" y2="309.8" stroke="#000" stroke-width="1.15"/>
<text x="375.9" y="322.1" font-size="14.3" text-anchor="start" textLength="6.5" lengthAdjust="spacingAndGlyphs" fill="#262626">2</text>
<line x1="401.02" y1="305.7" x2="401.02" y2="309.8" stroke="#000" stroke-width="1.15"/>
<text x="397.8" y="322.1" font-size="14.3" text-anchor="start" textLength="6.5" lengthAdjust="spacingAndGlyphs" fill="#262626">4</text>
<line x1="422.88" y1="305.7" x2="422.88" y2="309.8" stroke="#000" stroke-width="1.15"/>
<text x="419.7" y="322.1" font-size="14.3" text-anchor="start" textLength="6.5" lengthAdjust="spacingAndGlyphs" fill="#262626">6</text>
<line x1="444.74" y1="305.7" x2="444.74" y2="309.8" stroke="#000" stroke-width="1.15"/>
<text x="441.5" y="322.1" font-size="14.3" text-anchor="start" textLength="6.5" lengthAdjust="spacingAndGlyphs" fill="#262626">8</text>
<line x1="254.9" y1="296.52" x2="259.0" y2="296.52" stroke="#000" stroke-width="1.15"/>
<text y="302.0" font-size="14.3" fill="#262626"><tspan x="236.1" textLength="10.4" lengthAdjust="spacingAndGlyphs">−</tspan><tspan x="246.7" textLength="6.45" lengthAdjust="spacingAndGlyphs">4</tspan></text>
<line x1="254.9" y1="274.66" x2="259.0" y2="274.66" stroke="#000" stroke-width="1.15"/>
<text y="280.2" font-size="14.3" fill="#262626"><tspan x="236.1" textLength="10.4" lengthAdjust="spacingAndGlyphs">−</tspan><tspan x="246.7" textLength="6.45" lengthAdjust="spacingAndGlyphs">2</tspan></text>
<line x1="254.9" y1="252.80" x2="259.0" y2="252.80" stroke="#000" stroke-width="1.15"/>
<text x="246.6" y="258.3" font-size="14.3" text-anchor="start" textLength="6.5" lengthAdjust="spacingAndGlyphs" fill="#262626">0</text>
<line x1="254.9" y1="230.94" x2="259.0" y2="230.94" stroke="#000" stroke-width="1.15"/>
<text x="246.6" y="236.4" font-size="14.3" text-anchor="start" textLength="6.5" lengthAdjust="spacingAndGlyphs" fill="#262626">2</text>
<line x1="254.9" y1="209.08" x2="259.0" y2="209.08" stroke="#000" stroke-width="1.15"/>
<text x="246.6" y="214.6" font-size="14.3" text-anchor="start" textLength="6.5" lengthAdjust="spacingAndGlyphs" fill="#262626">4</text>
<text transform="translate(344.4,337.5)" font-style="italic" fill="#262626"><tspan x="0" y="0" font-size="14.6" textLength="7.9" lengthAdjust="spacingAndGlyphs">x</tspan><tspan x="8.7" y="3.4" font-size="19.5" textLength="3.8" lengthAdjust="spacingAndGlyphs">/</tspan><tspan x="14.7" y="0" font-size="14.2" textLength="10.9" lengthAdjust="spacingAndGlyphs">H</tspan></text>
<rect x="478.6" y="72.1" width="195.8" height="105.2" fill="none" stroke="#1a1a1a" stroke-width="0.8"/>
<line x1="489.06" y1="177.7" x2="489.06" y2="181.8" stroke="#000" stroke-width="1.15"/>
<line x1="510.92" y1="177.7" x2="510.92" y2="181.8" stroke="#000" stroke-width="1.15"/>
<line x1="532.78" y1="177.7" x2="532.78" y2="181.8" stroke="#000" stroke-width="1.15"/>
<line x1="554.64" y1="177.7" x2="554.64" y2="181.8" stroke="#000" stroke-width="1.15"/>
<line x1="576.50" y1="177.7" x2="576.50" y2="181.8" stroke="#000" stroke-width="1.15"/>
<line x1="598.36" y1="177.7" x2="598.36" y2="181.8" stroke="#000" stroke-width="1.15"/>
<line x1="620.22" y1="177.7" x2="620.22" y2="181.8" stroke="#000" stroke-width="1.15"/>
<line x1="642.08" y1="177.7" x2="642.08" y2="181.8" stroke="#000" stroke-width="1.15"/>
<line x1="663.94" y1="177.7" x2="663.94" y2="181.8" stroke="#000" stroke-width="1.15"/>
<line x1="474.1" y1="168.42" x2="478.2" y2="168.42" stroke="#000" stroke-width="1.15"/>
<text y="173.9" font-size="14.3" fill="#262626"><tspan x="455.2" textLength="10.4" lengthAdjust="spacingAndGlyphs">−</tspan><tspan x="465.9" textLength="6.45" lengthAdjust="spacingAndGlyphs">4</tspan></text>
<line x1="474.1" y1="146.56" x2="478.2" y2="146.56" stroke="#000" stroke-width="1.15"/>
<text y="152.1" font-size="14.3" fill="#262626"><tspan x="455.2" textLength="10.4" lengthAdjust="spacingAndGlyphs">−</tspan><tspan x="465.9" textLength="6.45" lengthAdjust="spacingAndGlyphs">2</tspan></text>
<line x1="474.1" y1="124.70" x2="478.2" y2="124.70" stroke="#000" stroke-width="1.15"/>
<text x="465.8" y="130.2" font-size="14.3" text-anchor="start" textLength="6.5" lengthAdjust="spacingAndGlyphs" fill="#262626">0</text>
<line x1="474.1" y1="102.84" x2="478.2" y2="102.84" stroke="#000" stroke-width="1.15"/>
<text x="465.8" y="108.3" font-size="14.3" text-anchor="start" textLength="6.5" lengthAdjust="spacingAndGlyphs" fill="#262626">2</text>
<line x1="474.1" y1="80.98" x2="478.2" y2="80.98" stroke="#000" stroke-width="1.15"/>
<text x="465.8" y="86.5" font-size="14.3" text-anchor="start" textLength="6.5" lengthAdjust="spacingAndGlyphs" fill="#262626">4</text>
<rect x="478.6" y="200.3" width="195.8" height="105.0" fill="none" stroke="#1a1a1a" stroke-width="0.8"/>
<line x1="489.06" y1="305.7" x2="489.06" y2="309.8" stroke="#000" stroke-width="1.15"/>
<text y="322.1" font-size="14.3" fill="#262626"><tspan x="480.3" textLength="10.4" lengthAdjust="spacingAndGlyphs">−</tspan><tspan x="491.0" textLength="6.45" lengthAdjust="spacingAndGlyphs">8</tspan></text>
<line x1="510.92" y1="305.7" x2="510.92" y2="309.8" stroke="#000" stroke-width="1.15"/>
<text y="322.1" font-size="14.3" fill="#262626"><tspan x="502.2" textLength="10.4" lengthAdjust="spacingAndGlyphs">−</tspan><tspan x="512.9" textLength="6.45" lengthAdjust="spacingAndGlyphs">6</tspan></text>
<line x1="532.78" y1="305.7" x2="532.78" y2="309.8" stroke="#000" stroke-width="1.15"/>
<text y="322.1" font-size="14.3" fill="#262626"><tspan x="524.1" textLength="10.4" lengthAdjust="spacingAndGlyphs">−</tspan><tspan x="534.8" textLength="6.45" lengthAdjust="spacingAndGlyphs">4</tspan></text>
<line x1="554.64" y1="305.7" x2="554.64" y2="309.8" stroke="#000" stroke-width="1.15"/>
<text y="322.1" font-size="14.3" fill="#262626"><tspan x="545.9" textLength="10.4" lengthAdjust="spacingAndGlyphs">−</tspan><tspan x="556.6" textLength="6.45" lengthAdjust="spacingAndGlyphs">2</tspan></text>
<line x1="576.50" y1="305.7" x2="576.50" y2="309.8" stroke="#000" stroke-width="1.15"/>
<text x="573.3" y="322.1" font-size="14.3" text-anchor="start" textLength="6.5" lengthAdjust="spacingAndGlyphs" fill="#262626">0</text>
<line x1="598.36" y1="305.7" x2="598.36" y2="309.8" stroke="#000" stroke-width="1.15"/>
<text x="595.1" y="322.1" font-size="14.3" text-anchor="start" textLength="6.5" lengthAdjust="spacingAndGlyphs" fill="#262626">2</text>
<line x1="620.22" y1="305.7" x2="620.22" y2="309.8" stroke="#000" stroke-width="1.15"/>
<text x="617.0" y="322.1" font-size="14.3" text-anchor="start" textLength="6.5" lengthAdjust="spacingAndGlyphs" fill="#262626">4</text>
<line x1="642.08" y1="305.7" x2="642.08" y2="309.8" stroke="#000" stroke-width="1.15"/>
<text x="638.9" y="322.1" font-size="14.3" text-anchor="start" textLength="6.5" lengthAdjust="spacingAndGlyphs" fill="#262626">6</text>
<line x1="663.94" y1="305.7" x2="663.94" y2="309.8" stroke="#000" stroke-width="1.15"/>
<text x="660.7" y="322.1" font-size="14.3" text-anchor="start" textLength="6.5" lengthAdjust="spacingAndGlyphs" fill="#262626">8</text>
<line x1="474.1" y1="296.52" x2="478.2" y2="296.52" stroke="#000" stroke-width="1.15"/>
<text y="302.0" font-size="14.3" fill="#262626"><tspan x="455.2" textLength="10.4" lengthAdjust="spacingAndGlyphs">−</tspan><tspan x="465.9" textLength="6.45" lengthAdjust="spacingAndGlyphs">4</tspan></text>
<line x1="474.1" y1="274.66" x2="478.2" y2="274.66" stroke="#000" stroke-width="1.15"/>
<text y="280.2" font-size="14.3" fill="#262626"><tspan x="455.2" textLength="10.4" lengthAdjust="spacingAndGlyphs">−</tspan><tspan x="465.9" textLength="6.45" lengthAdjust="spacingAndGlyphs">2</tspan></text>
<line x1="474.1" y1="252.80" x2="478.2" y2="252.80" stroke="#000" stroke-width="1.15"/>
<text x="465.8" y="258.3" font-size="14.3" text-anchor="start" textLength="6.5" lengthAdjust="spacingAndGlyphs" fill="#262626">0</text>
<line x1="474.1" y1="230.94" x2="478.2" y2="230.94" stroke="#000" stroke-width="1.15"/>
<text x="465.8" y="236.4" font-size="14.3" text-anchor="start" textLength="6.5" lengthAdjust="spacingAndGlyphs" fill="#262626">2</text>
<line x1="474.1" y1="209.08" x2="478.2" y2="209.08" stroke="#000" stroke-width="1.15"/>
<text x="465.8" y="214.6" font-size="14.3" text-anchor="start" textLength="6.5" lengthAdjust="spacingAndGlyphs" fill="#262626">4</text>
<text transform="translate(563.6,337.5)" font-style="italic" fill="#262626"><tspan x="0" y="0" font-size="14.6" textLength="7.9" lengthAdjust="spacingAndGlyphs">x</tspan><tspan x="8.7" y="3.4" font-size="19.5" textLength="3.8" lengthAdjust="spacingAndGlyphs">/</tspan><tspan x="14.7" y="0" font-size="14.2" textLength="10.9" lengthAdjust="spacingAndGlyphs">H</tspan></text>
<text transform="translate(10.6,136.9) rotate(-90)" font-style="italic" fill="#262626"><tspan x="0" y="0" font-size="14.6" textLength="6.6" lengthAdjust="spacingAndGlyphs">y</tspan><tspan x="7.4" y="3.4" font-size="19.5" textLength="4.6" lengthAdjust="spacingAndGlyphs">/</tspan><tspan x="14.2" y="0" font-size="14.2" textLength="11.4" lengthAdjust="spacingAndGlyphs">H</tspan></text>
<text transform="translate(10.6,265.0) rotate(-90)" font-style="italic" fill="#262626"><tspan x="0" y="0" font-size="14.6" textLength="6.6" lengthAdjust="spacingAndGlyphs">y</tspan><tspan x="7.4" y="3.4" font-size="19.5" textLength="4.6" lengthAdjust="spacingAndGlyphs">/</tspan><tspan x="14.2" y="0" font-size="14.2" textLength="11.4" lengthAdjust="spacingAndGlyphs">H</tspan></text>
<rect x="124.5" y="73.3" width="28.0" height="15.9" rx="2.6" fill="#d3d3d3" stroke="#b4b4b4" stroke-width="0.8"/>
<text x="128.3" y="84.5" font-size="12.4" text-anchor="start" textLength="20.6" lengthAdjust="spacingAndGlyphs" fill="#333">DNS</text>
<rect x="298.2" y="73.2" width="118.1" height="15.9" rx="2.6" fill="#d3d3d3" stroke="#b4b4b4" stroke-width="0.8"/>
<text x="301.9" y="84.4" font-size="12.4" text-anchor="start" textLength="111.1" lengthAdjust="spacingAndGlyphs" fill="#333">Filtered DNS, Δ = 24<tspan font-style="italic">dx</tspan></text>
<rect x="525.3" y="73.2" width="102.4" height="15.9" rx="2.6" fill="#d3d3d3" stroke="#b4b4b4" stroke-width="0.8"/>
<text x="529.0" y="84.4" font-size="12.4" text-anchor="start" textLength="95.0" lengthAdjust="spacingAndGlyphs" fill="#333">Favre Averaged DNS</text>
<rect x="124.5" y="288.6" width="27.8" height="15.9" rx="2.6" fill="#d3d3d3" stroke="#b4b4b4" stroke-width="0.8"/>
<text x="128.3" y="299.5" font-size="12.4" text-anchor="start" textLength="20.6" lengthAdjust="spacingAndGlyphs" fill="#333">DNS</text>
<rect x="344.7" y="288.6" width="25.7" height="15.9" rx="2.6" fill="#d3d3d3" stroke="#b4b4b4" stroke-width="0.8"/>
<text x="348.2" y="299.4" font-size="12.4" text-anchor="start" textLength="19.0" lengthAdjust="spacingAndGlyphs" fill="#333">LES</text>
<rect x="559.1" y="288.5" width="34.6" height="15.8" rx="2.6" fill="#d3d3d3" stroke="#b4b4b4" stroke-width="0.8"/>
<text x="562.6" y="299.4" font-size="12.4" text-anchor="start" textLength="27.6" lengthAdjust="spacingAndGlyphs" fill="#333">RANS</text>
</svg>
</body></html>
